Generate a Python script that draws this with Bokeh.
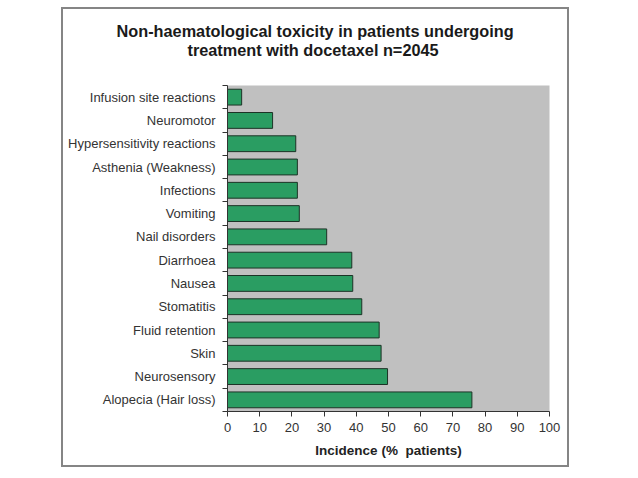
from bokeh.plotting import figure
from bokeh.models import FixedTicker, Title, Range1d, ColumnDataSource
from bokeh.embed import file_html
from bokeh.resources import INLINE

categories = ["Alopecia (Hair loss)", "Neurosensory", "Skin", "Fluid retention", "Stomatitis",
              "Nausea", "Diarrhoea", "Nail disorders", "Vomiting", "Infections",
              "Asthenia (Weakness)", "Hypersensitivity reactions", "Neuromotor", "Infusion site reactions"]
values = [75.9, 49.7, 47.7, 47.1, 41.7, 38.9, 38.6, 30.8, 22.3, 21.7, 21.7, 21.2, 14.0, 4.4]
x_ticks = [0, 10, 20, 30, 40, 50, 60, 70, 80, 90, 100]
title_lines = ["Non-haematological toxicity in patients undergoing", "treatment with docetaxel n=2045"]

pos = list(range(len(categories)))
src = ColumnDataSource(dict(y=pos, v=values, name=categories))

W, H = 508, 460
p = figure(width=W, height=H, output_backend="svg", toolbar_location=None,
           x_range=Range1d(0, 100), y_range=Range1d(-0.5, len(categories) - 0.5),
           min_border_left=164, min_border_right=22, min_border_top=76, min_border_bottom=58)
p.margin = (7, 0, 0, 61)
p.styles = {"border": "2px solid #858585"}
p.title.visible = False
p.background_fill_color = "#c0c0c0"
p.border_fill_color = "white"
p.outline_line_color = None
p.xgrid.visible = False
p.ygrid.visible = False

p.hbar(y="y", right="v", left=0, height=0.68, source=src,
       fill_color="#2a9d62", line_color="#1c3326", line_width=1)

font = "Liberation Sans"
p.xaxis.ticker = FixedTicker(ticks=x_ticks)
p.xaxis.major_tick_out = 5
p.xaxis.major_tick_in = 0
p.xaxis.minor_tick_out = 0
p.xaxis.minor_tick_in = 0
p.xaxis.major_label_text_font = font
p.xaxis.major_label_text_font_size = "13px"
p.xaxis.major_label_text_color = "#333333"
p.xaxis.major_label_standoff = 6
p.xaxis.axis_label = "Incidence (%\u00a0 patients)"
p.xaxis.axis_label_text_font = font
p.xaxis.axis_label_text_font_style = "bold"
p.xaxis.axis_label_text_font_size = "13.5px"
p.xaxis.axis_label_text_color = "#222222"
p.xaxis.axis_label_standoff = 8
p.xaxis.axis_line_color = "#333333"
p.xaxis.major_tick_line_color = "#333333"

p.yaxis.ticker = FixedTicker(ticks=pos, minor_ticks=[i - 0.5 for i in range(len(categories) + 1)])
p.yaxis.major_label_overrides = {i: c for i, c in enumerate(categories)}
p.yaxis.major_tick_out = 0
p.yaxis.major_tick_in = 0
p.yaxis.minor_tick_out = 5
p.yaxis.minor_tick_in = 0
p.yaxis.minor_tick_line_color = "#333333"
p.yaxis.axis_line_color = "#333333"
p.yaxis.major_label_text_font = font
p.yaxis.major_label_text_font_size = "13px"
p.yaxis.major_label_text_color = "#333333"
p.yaxis.major_label_standoff = 7

# blank spacer between frame and the title block
p.add_layout(Title(text=" ", standoff=13, text_font=font, text_font_size="10px"), "above")

# titles: nearest to the frame first
p.add_layout(Title(text=title_lines[1], align="left", offset=-40, standoff=0, vertical_align="middle",
                   text_font=font, text_font_style="bold", text_font_size="16.3px",
                   text_color="#1a1a1a"), "above")
p.add_layout(Title(text=title_lines[0], align="left", offset=-111, standoff=0, vertical_align="bottom",
                   text_font=font, text_font_style="bold", text_font_size="16.3px",
                   text_color="#1a1a1a"), "above")

open("out.html", "w").write(file_html(p, INLINE))
